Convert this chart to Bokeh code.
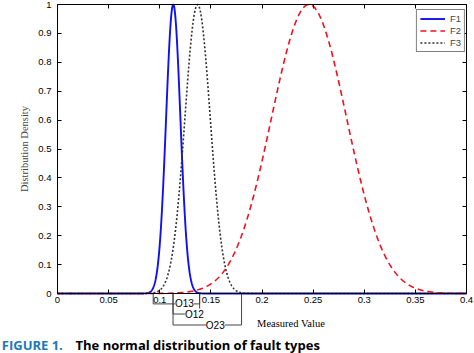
import numpy as np
from bokeh.plotting import figure
from bokeh.models import Range1d, LinearAxis, FixedTicker, Legend, LegendItem, ColumnDataSource
from bokeh.core.properties import value
from bokeh.embed import file_html
from bokeh.resources import INLINE

# ---------------- data ----------------
series_names = ["F1", "F2", "F3"]
series_means = [0.1132, 0.246, 0.137]
series_sigmas = [0.0070, 0.0368, 0.0124]

x_ticks = [0, 0.05, 0.1, 0.15, 0.2, 0.25, 0.3, 0.35, 0.4]
x_tick_labels = ["0", "0.05", "0.1", "0.15", "0.2", "0.25", "0.3", "0.35", "0.4"]
y_ticks = [0, 0.1, 0.2, 0.3, 0.4, 0.5, 0.6, 0.7, 0.8, 0.9, 1]
y_tick_labels = ["0", "0.1", "0.2", "0.3", "0.4", "0.5", "0.6", "0.7", "0.8", "0.9", "1"]

overlap_labels = ["O13", "O12", "O23"]
overlap_start = [0.0936, 0.113, 0.113]
overlap_end = [0.139, 0.139, 0.180]
overlap_level = [-0.036, -0.071, -0.109]

x_label = "Measured Value"
y_label = "Distribution Density"
caption_num = "FIGURE 1."
caption_text = "The normal distribution of fault types"

# ---------------- styles / layout ----------------
series_colors = ["#1010f0", "#f01020", "#303030"]
series_dashes = ["solid", "6 4", "2 2"]
series_widths = [1.9, 1.6, 1.6]

W, H = 474, 353
PX_X, PX_Y = 1022.5, 289.0   # pixels per data unit
X0_PX, Y0_PX = 57.0, 293.0    # pixel location of data origin

x_range = Range1d(-X0_PX / PX_X, (W - X0_PX) / PX_X)
y_range = Range1d(-(H - Y0_PX) / PX_Y, Y0_PX / PX_Y)

p = figure(width=W, height=H, x_range=x_range, y_range=y_range,
           output_backend="svg", toolbar_location=None, min_border=0)
p.outline_line_color = None
p.grid.visible = False
p.background_fill_color = "white"
p.border_fill_color = "white"

TICK_FONT = "Liberation Sans"


def style_axis(ax, ticks, labels, show, loc, bounds):
    ax.fixed_location = loc
    ax.bounds = bounds
    ax.ticker = FixedTicker(ticks=ticks, minor_ticks=[])
    ax.major_label_overrides = {t: (l if show else "") for t, l in zip(ticks, labels)}
    ax.major_tick_in = 4
    ax.major_tick_out = 0
    ax.minor_tick_in = 0
    ax.minor_tick_out = 0
    ax.axis_line_color = "black"
    ax.axis_line_width = 1
    ax.major_tick_line_color = "black"
    ax.major_label_text_font = TICK_FONT
    ax.major_label_text_font_size = "9.5px"
    ax.major_label_text_color = "black"


xb = p.xaxis[0]
style_axis(xb, x_ticks, x_tick_labels, True, 0.0, (0, 0.4))
xb.major_label_standoff = 3

yl = p.yaxis[0]
style_axis(yl, y_ticks, y_tick_labels, True, 0.0, (0, 1))
yl.major_label_standoff = 6
yl.axis_label = y_label
yl.axis_label_text_font = "Liberation Serif"
yl.axis_label_text_font_style = "normal"
yl.axis_label_text_font_size = "10.5px"
yl.axis_label_standoff = 5

xt = LinearAxis()
style_axis(xt, x_ticks, x_tick_labels, False, 1.0, (0, 0.4))
p.add_layout(xt, "above")

yr = LinearAxis()
style_axis(yr, y_ticks, y_tick_labels, False, 0.4, (0, 1))
p.add_layout(yr, "right")

# ---------------- curves ----------------
xs = np.linspace(0, 0.4, 1601)
items = []
for name, m, s, c, d, w in zip(series_names, series_means, series_sigmas,
                               series_colors, series_dashes, series_widths):
    ys = np.exp(-0.5 * ((xs - m) / s) ** 2)
    r = p.line(xs, ys, line_color=c, line_dash=d, line_width=w)
    items.append(LegendItem(label=name, renderers=[r]))

# ---------------- overlap brackets ----------------
br = ColumnDataSource(dict(
    x0=overlap_start, x1=overlap_end, lvl=overlap_level,
    zero=[0.0] * len(overlap_level),
    mid=[(a + b) / 2 for a, b in zip(overlap_start, overlap_end)],
    lab=overlap_labels,
))
BR_COLOR = "#444444"
p.segment(x0="x0", y0="lvl", x1="x1", y1="lvl", source=br, line_color=BR_COLOR, line_width=1)
p.segment(x0="x0", y0="zero", x1="x0", y1="lvl", source=br, line_color=BR_COLOR, line_width=1)
p.segment(x0="x1", y0="zero", x1="x1", y1="lvl", source=br, line_color=BR_COLOR, line_width=1)
p.text(x="mid", y="lvl", text="lab", source=br, x_offset=8,
       text_align="center", text_baseline="middle",
       text_font=value(TICK_FONT), text_font_size="10px", text_color="black",
       background_fill_color="white")

# x axis label (placed as in the reference, right of centre)
p.text(x=[0.2284], y=[-0.1028], text=[x_label], text_align="center", text_baseline="middle",
       text_font=value("Liberation Serif"), text_font_size="10.5px", text_color="black")

# caption at the bottom of the picture
p.text(x=[-0.0545], y=[-0.148], text=[caption_num], text_align="left", text_baseline="top",
       text_font=value("Open Sans"), text_font_style="bold", text_font_size="13px",
       text_color="#2178b8")
p.text(x=[0.0176], y=[-0.148], text=[caption_text], text_align="left", text_baseline="top",
       text_font=value("Open Sans"), text_font_style="bold", text_font_size="13px",
       text_color="black")

# ---------------- legend ----------------
legend = Legend(items=items, location="top_right", margin=9,
                label_text_font=TICK_FONT, label_text_font_size="9.5px",
                glyph_width=25, glyph_height=9, label_height=9, label_width=10,
                spacing=1, padding=3, label_standoff=5,
                border_line_color="black", border_line_width=1,
                background_fill_color="white", background_fill_alpha=1)
p.add_layout(legend)

open("out.html", "w").write(file_html(p, INLINE))
